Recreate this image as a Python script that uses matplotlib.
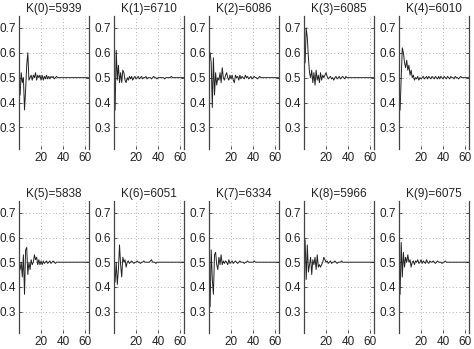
import matplotlib
matplotlib.use("Agg")
import matplotlib.pyplot as plt
import numpy as np

plt.rcParams['font.family'] = ['Liberation Sans', 'DejaVu Sans']

titles = ["K(0)=5939", "K(1)=6710", "K(2)=6086", "K(3)=6085", "K(4)=6010",
          "K(5)=5838", "K(6)=6051", "K(7)=6334", "K(8)=5966", "K(9)=6075"]

k0 = [0.43,0.52,0.48,0.50,0.37,0.45,0.55,0.60,0.49,0.50,
      0.51,0.49,0.51,0.50,0.52,0.49,0.51,0.50,0.51,0.49,
      0.51,0.49,0.505,0.495,0.51,0.495,0.505,0.495,0.505,0.50,
      0.505,0.495,0.50,0.505,0.50,0.50,0.50,0.50,0.50,0.50,
      0.50,0.50,0.50,0.50,0.50,0.50,0.50,0.50,0.50,0.50,
      0.50,0.50,0.50,0.50,0.50,0.50,0.50,0.50,0.50,0.50,
      0.50,0.50,0.50]
k1 = [0.37,0.61,0.49,0.55,0.48,0.52,0.48,0.53,0.52,0.49,
      0.48,0.50,0.49,0.505,0.495,0.505,0.49,0.50,0.505,0.495,
      0.50,0.505,0.495,0.50,0.505,0.495,0.50,0.50,0.505,0.495,
      0.50,0.50,0.50,0.495,0.50,0.505,0.50,0.50,0.495,0.50,
      0.50,0.50,0.50,0.50,0.50,0.495,0.50,0.50,0.50,0.50,
      0.50,0.505,0.50,0.50,0.50,0.50,0.50,0.50,0.50,0.50,
      0.50,0.50,0.50]
k2 = [0.60,0.56,0.38,0.58,0.43,0.52,0.47,0.50,0.49,0.52,
      0.48,0.54,0.50,0.49,0.51,0.52,0.50,0.49,0.51,0.495,
      0.51,0.49,0.48,0.51,0.50,0.505,0.49,0.51,0.495,0.505,
      0.50,0.495,0.51,0.50,0.505,0.495,0.50,0.505,0.495,0.50,
      0.505,0.50,0.50,0.495,0.50,0.505,0.50,0.50,0.50,0.50,
      0.50,0.50,0.50,0.50,0.50,0.50,0.50,0.50,0.50,0.50,
      0.50,0.50,0.50]
k3 = [0.56,0.70,0.66,0.58,0.52,0.50,0.53,0.48,0.52,0.47,
      0.53,0.49,0.51,0.48,0.52,0.49,0.51,0.50,0.51,0.52,
      0.505,0.495,0.50,0.505,0.495,0.50,0.49,0.50,0.505,0.495,
      0.50,0.505,0.495,0.50,0.505,0.50,0.495,0.505,0.50,0.50,
      0.50,0.50,0.50,0.50,0.50,0.50,0.50,0.50,0.50,0.50,
      0.50,0.50,0.50,0.50,0.50,0.50,0.50,0.50,0.50,0.50,
      0.50,0.50,0.50]
k4 = [0.37,0.50,0.62,0.60,0.56,0.54,0.57,0.53,0.55,0.51,
      0.53,0.50,0.51,0.49,0.50,0.495,0.505,0.49,0.50,0.495,
      0.50,0.505,0.495,0.50,0.505,0.495,0.505,0.50,0.495,0.505,
      0.50,0.495,0.505,0.50,0.495,0.505,0.495,0.505,0.50,0.495,
      0.505,0.50,0.495,0.505,0.50,0.495,0.505,0.50,0.50,0.495,
      0.505,0.50,0.50,0.495,0.50,0.505,0.50,0.50,0.50,0.50,
      0.50,0.50,0.50]
k5 = [0.47,0.50,0.44,0.53,0.37,0.55,0.56,0.45,0.50,0.47,
      0.51,0.49,0.50,0.53,0.51,0.52,0.49,0.51,0.49,0.505,
      0.49,0.505,0.495,0.50,0.505,0.495,0.50,0.505,0.495,0.50,
      0.505,0.50,0.495,0.50,0.50,0.50,0.50,0.50,0.50,0.50,
      0.50,0.50,0.50,0.50,0.50,0.50,0.50,0.50,0.50,0.50,
      0.50,0.50,0.50,0.50,0.50,0.50,0.50,0.50,0.50,0.50,
      0.50,0.50,0.50]
k6 = [0.42,0.50,0.41,0.47,0.57,0.49,0.44,0.52,0.50,0.51,
      0.48,0.50,0.505,0.495,0.50,0.505,0.50,0.495,0.50,0.50,
      0.505,0.50,0.50,0.495,0.50,0.50,0.505,0.50,0.50,0.50,
      0.50,0.50,0.505,0.51,0.50,0.50,0.50,0.495,0.50,0.50,
      0.50,0.50,0.50,0.50,0.50,0.50,0.50,0.50,0.50,0.50,
      0.50,0.50,0.50,0.50,0.50,0.50,0.50,0.50,0.50,0.50,
      0.50,0.50,0.50]
k7 = [0.32,0.55,0.43,0.37,0.53,0.54,0.49,0.47,0.52,0.49,
      0.53,0.49,0.505,0.495,0.505,0.50,0.49,0.51,0.495,0.50,
      0.505,0.495,0.50,0.505,0.50,0.495,0.50,0.505,0.50,0.50,
      0.50,0.495,0.50,0.50,0.505,0.50,0.50,0.50,0.50,0.50,
      0.505,0.50,0.50,0.50,0.50,0.50,0.50,0.50,0.50,0.50,
      0.50,0.50,0.50,0.50,0.50,0.50,0.50,0.50,0.50,0.50,
      0.50,0.50,0.50]
k8 = [0.59,0.43,0.57,0.46,0.49,0.52,0.45,0.51,0.49,0.52,
      0.47,0.53,0.48,0.49,0.48,0.49,0.50,0.52,0.51,0.50,
      0.505,0.495,0.50,0.505,0.495,0.50,0.50,0.505,0.50,0.495,
      0.50,0.50,0.50,0.505,0.50,0.50,0.50,0.50,0.50,0.50,
      0.50,0.50,0.50,0.50,0.50,0.50,0.50,0.50,0.50,0.50,
      0.50,0.50,0.50,0.50,0.50,0.50,0.50,0.50,0.50,0.50,
      0.50,0.50,0.50]
k9 = [0.37,0.58,0.44,0.54,0.48,0.52,0.50,0.53,0.50,0.51,
      0.48,0.50,0.505,0.49,0.505,0.50,0.51,0.495,0.50,0.51,
      0.495,0.505,0.50,0.495,0.51,0.50,0.495,0.505,0.50,0.50,
      0.505,0.50,0.495,0.50,0.505,0.50,0.50,0.50,0.495,0.50,
      0.50,0.505,0.50,0.50,0.50,0.50,0.50,0.50,0.50,0.50,
      0.50,0.50,0.50,0.50,0.50,0.50,0.50,0.50,0.50,0.50,
      0.50,0.50,0.50]

series = [k0, k1, k2, k3, k4, k5, k6, k7, k8, k9]
xticks = [20, 40, 60]
yticks = [0.3, 0.4, 0.5, 0.6, 0.7]

W, H = 474, 349
fig = plt.figure(figsize=(W / 100, H / 100), dpi=100)

lefts = [19, 114, 209, 304, 399]
width = 70
rows = [(16, 149), (201, 333)]

for i, y in enumerate(series):
    r, c = divmod(i, 5)
    top, bot = rows[r]
    ax = fig.add_axes([lefts[c] / W, 1 - bot / H, width / W, (bot - top) / H])
    x = np.arange(1, len(y) + 1)
    ax.plot(x, y, color='#222222', lw=0.7)
    ax.set_xlim(0, 63.5)
    ax.set_ylim(0.213, 0.748)
    ax.set_xticks(xticks)
    ax.set_yticks(yticks)
    ax.set_yticklabels([f"{v:.1f}" for v in yticks])
    ax.grid(True, linestyle=(0, (1, 3)), color='#999999', lw=0.6)
    ax.spines['top'].set_visible(False)
    ax.spines['bottom'].set_visible(False)
    for s in ('left', 'right'):
        ax.spines[s].set_color('#444444')
        ax.spines[s].set_linewidth(0.9)
    ax.tick_params(direction='in', length=2, width=0.6, labelsize=8.5,
                   left=True, right=True, bottom=True, top=False,
                   colors='#333333', labelcolor='#222222', pad=2)
    ax.set_title(titles[i], fontsize=8.5, pad=3, color='#222222')

fig.savefig("out.png", dpi=100)
